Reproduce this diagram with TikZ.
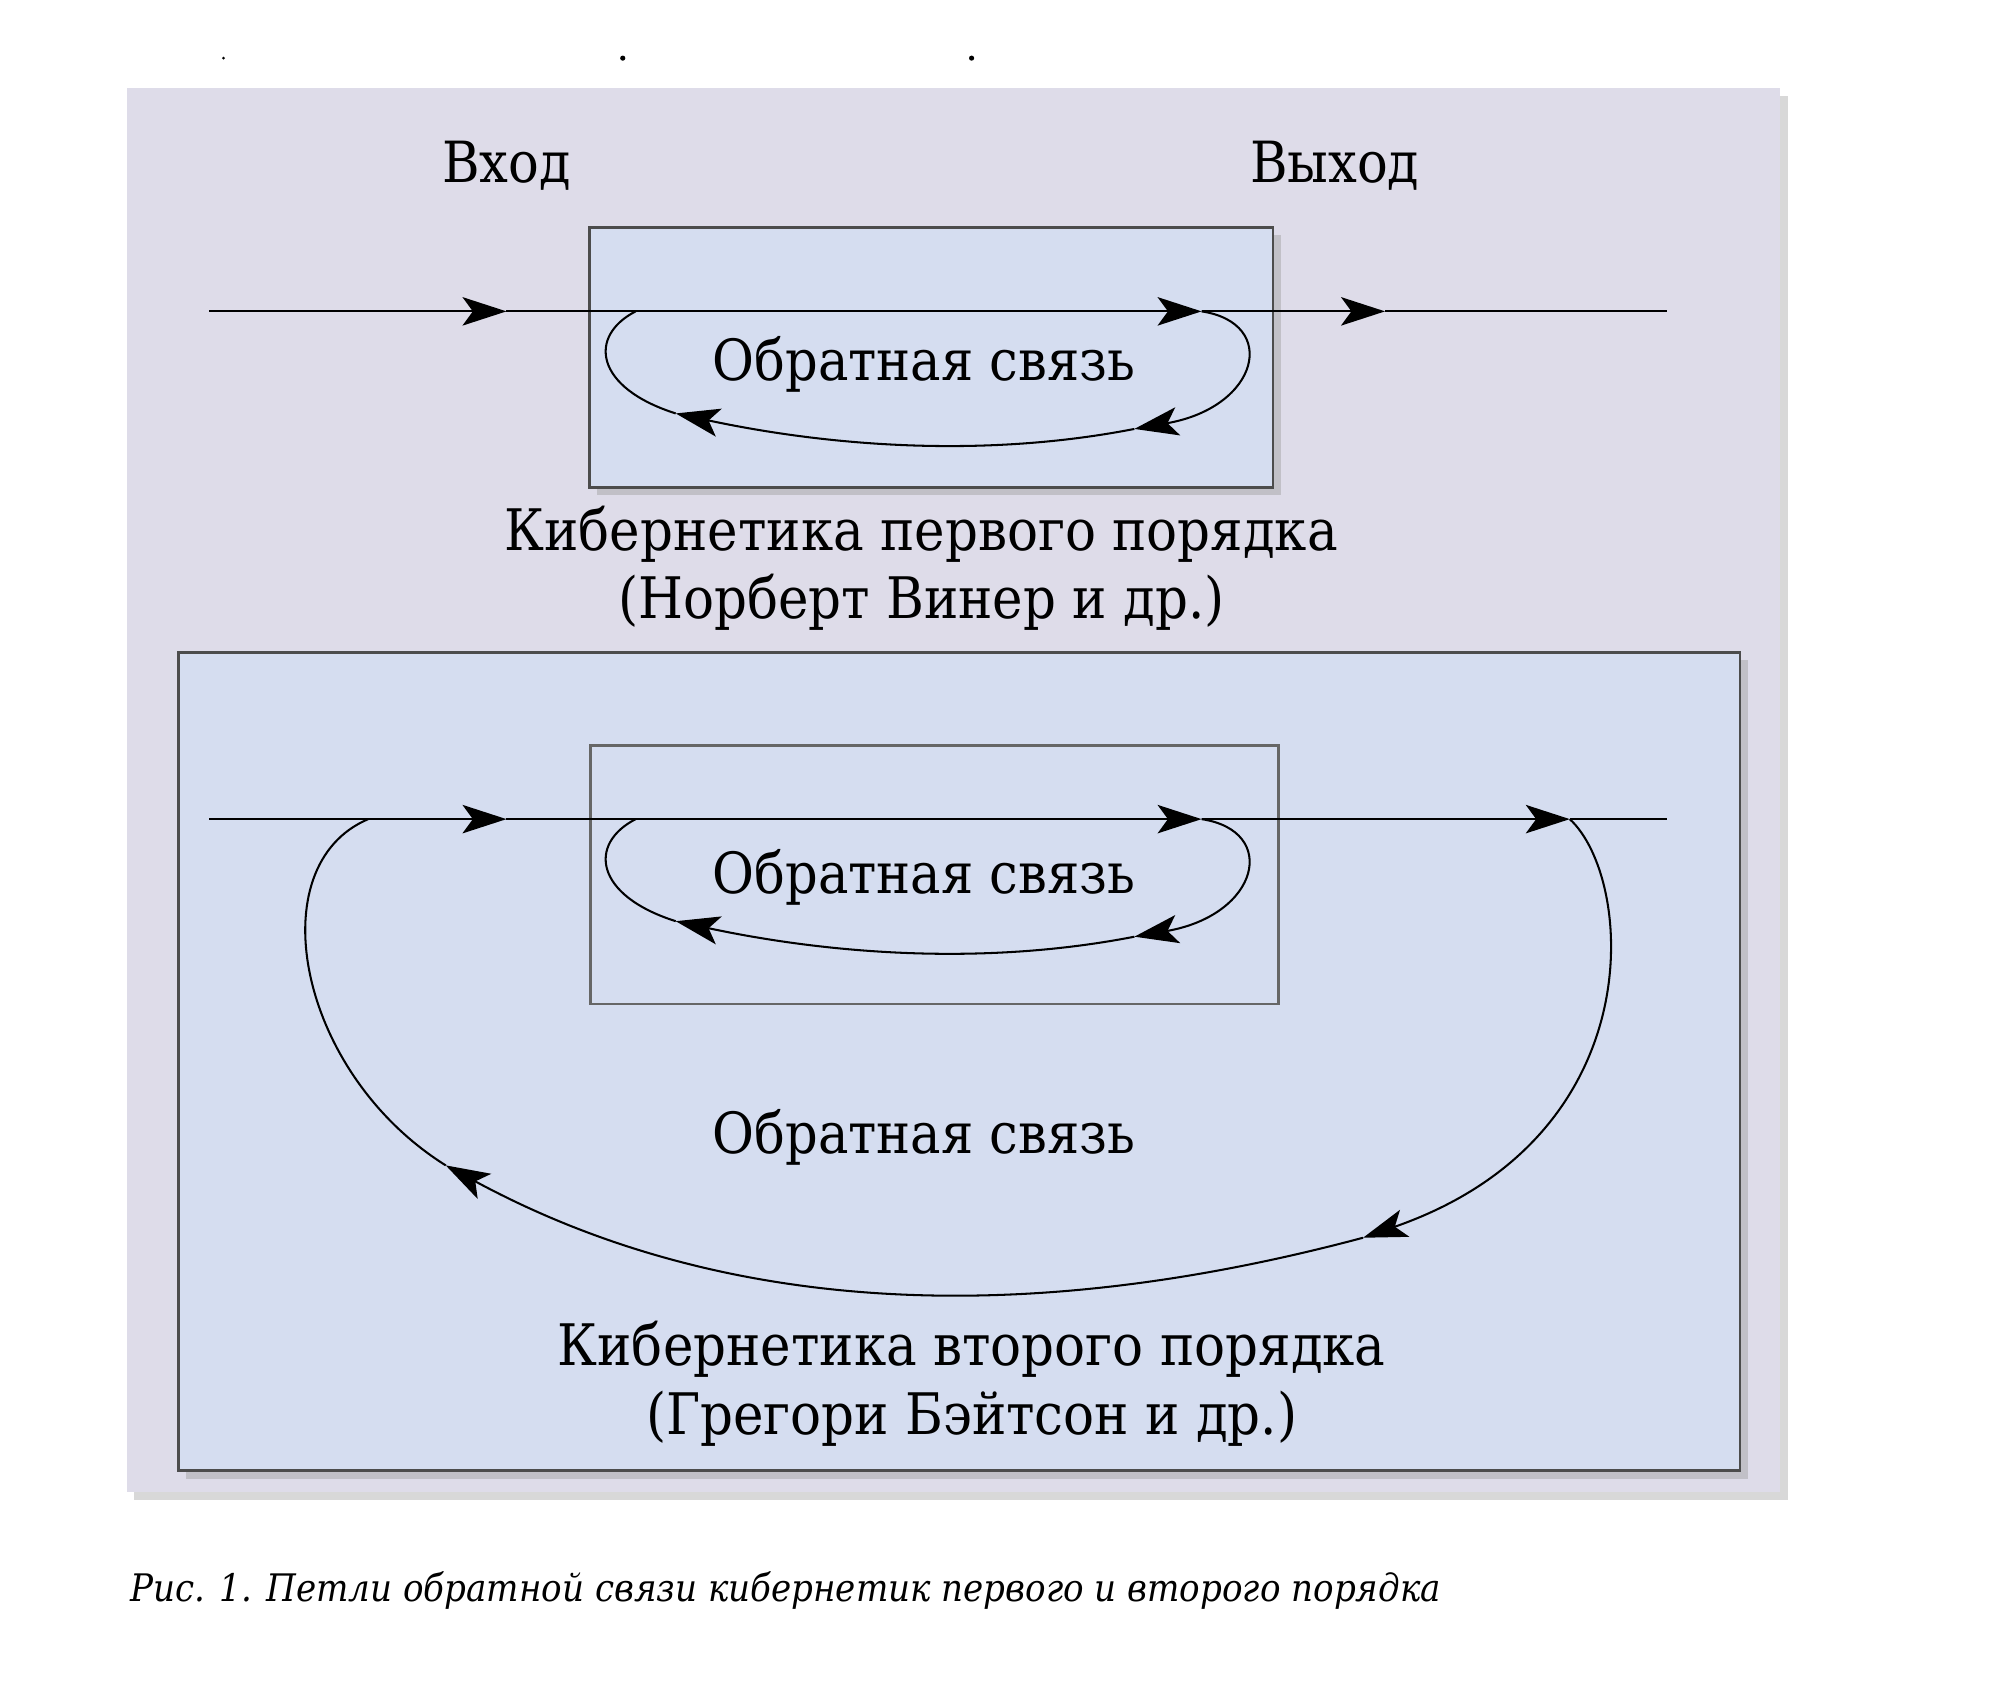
\documentclass[tikz,border=0pt]{standalone}
\usepackage{fontspec}
\setmainfont{DejaVu Serif Condensed}
\usetikzlibrary{arrows.meta,shadows}
\definecolor{bgl}{HTML}{DEDCE9}
\definecolor{boxb}{HTML}{D5DDF0}
\tikzset{
  ar/.style={-{Stealth[length=0.34cm,width=0.22cm,inset=0.08cm]}, line width=0.45pt},
  ln/.style={line width=0.45pt},
  bx/.style={draw=black!70, line width=0.6pt, fill=boxb, drop shadow={shadow xshift=0.06cm,shadow yshift=-0.06cm,fill=black!35}},
  lbl/.style={font=\fontsize{12.5pt}{15pt}\selectfont, inner sep=0pt},
  lbl2/.style={font=\fontsize{12.6pt}{15pt}\selectfont, align=center, inner sep=0pt}
}
\begin{document}
\begin{tikzpicture}[x=0.01cm,y=-0.01cm]
\useasboundingbox (0,0) rectangle (1548,1315);
\fill[white] (0,0) rectangle (1548,1315);
% small dots
\fill (173,45) circle (1.2);
\fill (482,45) circle (2);
\fill (752,45) circle (2);
% background
\path[fill=bgl, drop shadow={shadow xshift=0.06cm,shadow yshift=-0.06cm,fill=black!30}] (98,68) rectangle (1378,1155);
% top box
\node[bx, minimum width=5.29cm, minimum height=2.01cm, anchor=north west] (b1) at (455,175) {};
\node[lbl] (in) at (392,128) {Вход};
\node[lbl] (out) at (1033,128) {Выход};
\node[lbl] (fb1) at (715,282) {Обратная связь};
\node[lbl2] (c1) at (713,440) {Кибернетика первого порядка\\(Норберт Винер и др.)};
\coordinate (a0) at (162,241); \coordinate (a1) at (392,241);
\coordinate (a2) at (930,241); \coordinate (a3) at (1072,241);
\coordinate (a4) at (1290,241);
\draw[ar] (a0) -- (a1); \draw[ar] (a1) -- (a2); \draw[ar] (a2) -- (a3); \draw[ln] (a3) -- (a4);
\coordinate (l1) at (878,332); \coordinate (l2) at (523,320); \coordinate (l3) at (492,241);
\draw[ar] (a2) .. controls (990,250) and (975,315) .. (l1);
\draw[ar] (l1) .. controls (760,355) and (640,345) .. (l2);
\draw[ln] (l2) .. controls (460,300) and (455,260) .. (l3);
% bottom box
\node[bx, minimum width=12.08cm, minimum height=6.33cm, anchor=north west] (b2) at (137,504) {};
\node[draw=black!60, line width=0.6pt, minimum width=5.32cm, minimum height=2.0cm, anchor=north west] (b3) at (456,576) {};
\node[lbl] (fb2) at (715,679) {Обратная связь};
\node[lbl] (fb3) at (715,880) {Обратная связь};
\node[lbl2] (c2) at (752,1071) {Кибернетика второго порядка\\(Грегори Бэйтсон и др.)};
\coordinate (d0) at (162,634); \coordinate (d1) at (392,634);
\coordinate (d2) at (930,634); \coordinate (d3) at (1215,634);
\coordinate (d4) at (1290,634);
\draw[ar] (d0) -- (d1); \draw[ar] (d1) -- (d2); \draw[ar] (d2) -- (d3); \draw[ln] (d3) -- (d4);
\coordinate (m1) at (878,725); \coordinate (m2) at (523,713); \coordinate (m3) at (492,634);
\draw[ar] (d2) .. controls (990,643) and (975,708) .. (m1);
\draw[ar] (m1) .. controls (760,748) and (640,738) .. (m2);
\draw[ln] (m2) .. controls (460,693) and (455,653) .. (m3);
\coordinate (g1) at (1055,958); \coordinate (g2) at (345,902); \coordinate (g3) at (285,634);
\draw[ar] (d3) .. controls (1265,680) and (1280,880) .. (g1);
\draw[ar] (g1) .. controls (860,1010) and (600,1040) .. (g2);
\draw[ln] (g2) .. controls (230,830) and (200,670) .. (g3);
% caption
\node[font=\fontsize{8.35pt}{10pt}\selectfont\itshape, anchor=west, inner sep=0pt] (cap) at (100,1231) {Рис. 1. Петли обратной связи кибернетик первого и второго порядка};
\end{tikzpicture}
\end{document}
